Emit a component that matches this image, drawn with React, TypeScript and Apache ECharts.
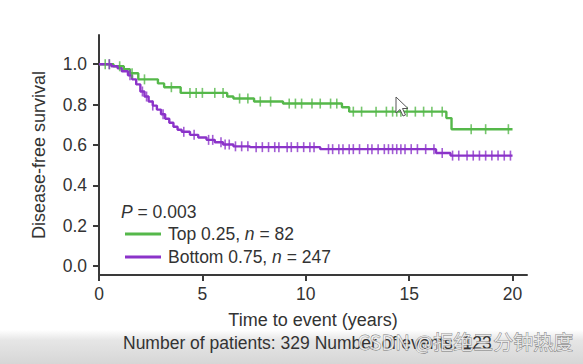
import React, { useEffect, useRef } from "react";
import * as echarts from "echarts";

// Kaplan–Meier step data (time in years, survival)
const topTimes = [0, 0.7, 1.2, 1.5, 1.9, 2.85, 3.15, 3.95, 6.2, 6.5, 7.5, 8.9, 11.75, 12.1, 16.8, 17.05, 20];
const topSurv = [1.0, 0.99, 0.975, 0.955, 0.925, 0.905, 0.886, 0.858, 0.84, 0.83, 0.815, 0.805, 0.787, 0.765, 0.733, 0.678, 0.678];
const topCensor = [0.3, 0.5, 1.0, 1.6, 2.2, 3.5, 4.4, 4.7, 5.0, 5.6, 6.0, 6.8, 7.2, 7.8, 8.3, 9.2, 9.5, 9.8, 10.3, 10.7, 11.2, 11.5, 12.3, 12.7, 13.4, 13.9, 14.2, 14.4, 14.6, 14.9, 15.3, 15.7, 16.1, 16.6, 18.0, 18.7, 19.8];

const bottomTimes = [0, 0.6, 0.9, 1.1, 1.4, 1.6, 1.8, 2.0, 2.2, 2.4, 2.6, 2.8, 3.0, 3.2, 3.4, 3.6, 3.8, 4.0, 4.4, 4.8, 5.2, 5.6, 6.0, 6.5, 7.3, 10.7, 16.3, 17.0, 20];
const bottomSurv = [1.0, 0.99, 0.98, 0.965, 0.945, 0.925, 0.9, 0.865, 0.84, 0.815, 0.795, 0.775, 0.752, 0.73, 0.71, 0.69, 0.675, 0.665, 0.65, 0.637, 0.625, 0.613, 0.602, 0.593, 0.589, 0.579, 0.56, 0.547, 0.547];
const bottomCensor = [0.5, 1.5, 2.1, 2.3, 2.6, 3.1, 4.1, 4.6, 5.3, 5.5, 5.9, 6.1, 6.3, 6.6, 6.9, 7.2, 7.6, 7.9, 8.2, 8.5, 8.7, 9.1, 9.3, 9.6, 9.9, 10.2, 10.4, 11.1, 11.3, 11.6, 11.8, 12.1, 12.3, 12.6, 13.0, 13.2, 13.5, 13.8, 14.0, 14.2, 14.4, 14.6, 14.8, 15.1, 15.4, 15.8, 16.2, 16.6, 17.1, 17.4, 17.8, 18.1, 18.4, 18.7, 19.0, 19.3, 19.6, 19.9];

const xTicks = [0, 5, 10, 15, 20];
const yTicks = [0, 0.2, 0.4, 0.6, 0.8, 1.0];

const pValueLabel = "0.003";
const topLabel = { name: "Top 0.25", n: 82 };
const bottomLabel = { name: "Bottom 0.75", n: 247 };
const footnote = "Number of patients: 329 Number of events: 123";
const watermark = "CSDN @拒绝三分钟热度";

const GREEN = "#55b84a";
const PURPLE = "#8b33c9";
const TEXT = "#333333";
const FONT = "'Liberation Sans', Arial, Helvetica, sans-serif";
const FS = 17.5;

function stepPairs(times: number[], surv: number[]) {
  return times.map((t, i) => [t, surv[i]]);
}
function censorPairs(censor: number[], times: number[], surv: number[]) {
  return censor.map((c) => {
    let v = surv[0];
    for (let i = 0; i < times.length; i++) if (times[i] <= c) v = surv[i];
    return [c, v];
  });
}

export default function App() {
  const ref = useRef<HTMLDivElement>(null);
  useEffect(() => {
    if (!ref.current) return;
    const chart = echarts.init(ref.current, null, { renderer: "svg" });
    const tickMark = { symbol: "rect", symbolSize: [1.6, 10] };
    chart.setOption({
      animation: false,
      backgroundColor: "#ffffff",
      grid: { left: 99, top: 35, right: 56, bottom: 89, containLabel: false },
      xAxis: {
        type: "value",
        min: 0,
        max: 20.7,
        name: "Time to event (years)",
        nameLocation: "middle",
        nameGap: 36,
        nameTextStyle: { fontSize: 18, color: TEXT, fontFamily: FONT },
        splitLine: { show: false },
        axisLine: { onZero: false, lineStyle: { color: "#3a3a3a", width: 2 } },
        axisTick: { show: true, length: 6, inside: false, customValues: xTicks, lineStyle: { color: "#3a3a3a", width: 2 } },
        axisLabel: { customValues: xTicks, fontSize: FS, color: TEXT, fontFamily: FONT, margin: 10 },
      },
      yAxis: {
        type: "value",
        min: -0.045,
        max: 1.145,
        name: "Disease-free survival",
        nameLocation: "middle",
        nameGap: 51,
        nameRotate: 90,
        nameTextStyle: { fontSize: 18, color: TEXT, fontFamily: FONT },
        splitLine: { show: false },
        axisLine: { show: true, lineStyle: { color: "#3a3a3a", width: 2 } },
        axisTick: { show: true, length: 6, customValues: yTicks, lineStyle: { color: "#3a3a3a", width: 2 } },
        axisLabel: {
          customValues: yTicks,
          fontSize: FS,
          color: TEXT,
          fontFamily: FONT,
          margin: 12,
          formatter: (v: number) => v.toFixed(1),
        },
      },
      legend: {
        data: [topLabel.name, bottomLabel.name],
        orient: "vertical",
        left: 120,
        top: 220,
        itemWidth: 36,
        itemHeight: 3,
        itemGap: 5,
        icon: "rect",
        formatter: (name: string) => {
          const l = name === topLabel.name ? topLabel : bottomLabel;
          return `${l.name}, {i|n} = ${l.n}`;
        },
        textStyle: {
          fontSize: FS,
          color: TEXT,
          fontFamily: FONT,
          padding: [0, 0, 0, 2],
          rich: { i: { fontStyle: "italic", fontSize: FS, color: TEXT, fontFamily: FONT } },
        },
      },
      series: [
        {
          name: topLabel.name,
          type: "line",
          step: "end",
          showSymbol: false,
          color: GREEN,
          lineStyle: { width: 2.4, color: GREEN },
          data: stepPairs(topTimes, topSurv),
          z: 3,
        },
        {
          name: bottomLabel.name,
          type: "line",
          step: "end",
          showSymbol: false,
          color: PURPLE,
          lineStyle: { width: 2.4, color: PURPLE },
          data: stepPairs(bottomTimes, bottomSurv),
          z: 3,
        },
        {
          name: "top-censor",
          type: "scatter",
          ...tickMark,
          itemStyle: { color: GREEN },
          data: censorPairs(topCensor, topTimes, topSurv),
          z: 4,
        },
        {
          name: "bottom-censor",
          type: "scatter",
          ...tickMark,
          itemStyle: { color: PURPLE },
          data: censorPairs(bottomCensor, bottomTimes, bottomSurv),
          z: 4,
        },
      ],
      graphic: [
        {
          type: "rect",
          left: 0,
          top: 330,
          z: -10,
          shape: { width: 583, height: 34 },
          style: {
            fill: new echarts.graphic.LinearGradient(0, 0, 0, 1, [
              { offset: 0, color: "#ffffff" },
              { offset: 0.3, color: "#e6e6e6" },
              { offset: 1, color: "#d6d6d6" },
            ]),
          },
        },
        {
          type: "text",
          left: 121,
          top: 203,
          style: {
            text: `{i|P} = ${pValueLabel}`,
            fontSize: FS,
            fill: TEXT,
            fontFamily: FONT,
            rich: { i: { fontStyle: "italic", fontSize: FS, fill: TEXT, fontFamily: FONT } },
          },
        },
        {
          type: "text",
          left: 123,
          top: 334,
          style: { text: footnote, fontSize: FS, fill: TEXT, fontFamily: FONT },
        },
        {
          type: "text",
          left: 357,
          top: 331,
          z: 20,
          style: {
            text: watermark,
            fontSize: 20,
            fill: "rgba(250,250,250,0.75)",
            stroke: "rgba(90,90,90,0.8)",
            lineWidth: 0.8,
            fontFamily: "'Noto Sans CJK SC', 'Noto Sans', sans-serif",
          },
        },
        {
          type: "polygon",
          z: 20,
          shape: {
            points: [
              [396, 97], [396, 113], [400, 109.5], [403, 116], [405.5, 115], [402.5, 108.5], [408, 108.5],
            ],
          },
          style: { fill: "#ffffff", stroke: "#555555", lineWidth: 1 },
        },
      ],
    });
    return () => chart.dispose();
  }, []);
  return (
    <div
      ref={ref}
      style={{ position: "fixed", left: 0, top: 0, width: 583, height: 364 }}
    />
  );
}
